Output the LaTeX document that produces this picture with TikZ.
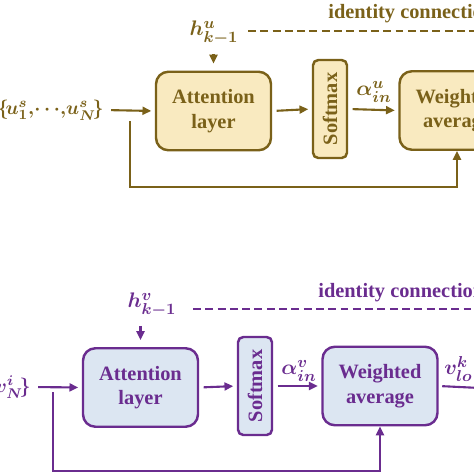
\documentclass[tikz,border=0pt]{standalone}
\usepackage{amsmath,bm}
\usepackage{fontspec}
\setmainfont{Liberation Serif}
\usetikzlibrary{arrows.meta,positioning,calc}
\definecolor{ochre}{HTML}{7A6119}
\definecolor{ochrefill}{HTML}{F9EAC0}
\definecolor{plum}{HTML}{6A2C8F}
\definecolor{plumfill}{HTML}{DCE6F2}

\begin{document}
\begin{tikzpicture}[x=0.02cm, y=-0.02cm, >={Triangle[length=5pt,width=4.5pt]},
    font=\fontsize{11.6}{14}\selectfont\bfseries,
    blockbox/.style={draw, fill=#1, line width=1.4pt, rounded corners=7pt,
                     minimum width=2.3cm, minimum height=1.57cm, align=center, inner sep=1pt},
    smbox/.style={draw, fill=#1, line width=1.4pt, rounded corners=3pt,
                  minimum width=0.68cm, minimum height=1.96cm, inner sep=0pt},
    sym/.style={font=\fontsize{13.2}{15}\selectfont, inner sep=0pt},
    setlbl/.style={font=\fontsize{11.4}{14}\selectfont, inner sep=0pt},
    flow/.style={->, line width=1.2pt, shorten <=2.5pt, shorten >=2pt},
    skip/.style={line width=0.8pt, dash pattern=on 4.5pt off 2.5pt}]
  \useasboundingbox (0,0) rectangle (474,474);
  \clip (0,0) rectangle (474,474);

  %% upper panel
  \begin{scope}[color=ochre]
    \node[blockbox=ochrefill] (attu) at (213.5,111) {Attention\\layer};
    \node[smbox=ochrefill] (smu) at (330,109) {\rotatebox{90}{Softmax}};
    \node[blockbox=ochrefill] (wau) at (457,110.5) {Weighted\\average};
    \node[setlbl, anchor=east] (inu) at (104,110)
      {$\bm{\{\!u^s_1{,}{\cdots}{,}u^s_N\!\}}$};
    \node[sym] (hu) at (214,33) {$\bm{h^u_{k-1}}$};
    \node[anchor=west, inner sep=0pt] (idu) at (328,14) {identity connection};
    \node[sym] (alu) at (374,92) {$\bm{\alpha^u_{in}}$};
    \coordinate (dsu) at (248,31);
    \coordinate (deu) at (480,31);
    \coordinate (fbu) at (130,121);
    \coordinate (fcu) at (130,187);
    %% connectors
    \draw[skip] (dsu) -- (deu);
    \draw[flow, shorten <=5pt, shorten >=4pt] (attu.north |- hu.south) -- (attu.north);
    \draw[flow, shorten <=4pt] (inu.east) -- (attu.west);
    \draw[flow] (attu.east) -- (smu.west);
    \draw[flow] (smu.east) -- (wau.west);
    \draw[->, line width=1.2pt] (fbu) -- (fcu) -| (wau.south);
  \end{scope}

  %% lower panel
  \begin{scope}[color=plum]
    \node[blockbox=plumfill] (attv) at (140.5,387.5) {Attention\\layer};
    \node[smbox=plumfill] (smv) at (255,386) {\rotatebox{90}{Softmax}};
    \node[blockbox=plumfill] (wav) at (380,386) {Weighted\\average};
    \node[setlbl, anchor=east] (inv) at (31,387)
      {$\bm{\{\!v^i_1{,}{\cdots}{,}v^i_N\!\}}$};
    \node[sym] (hv) at (152,305) {$\bm{h^v_{k-1}}$};
    \node[anchor=west, inner sep=0pt] (idv) at (318,293) {identity connection};
    \node[sym] (alv) at (299,371) {$\bm{\alpha^v_{in}}$};
    \node[sym, anchor=west] (outv) at (444,369) {$\bm{v^k_{lo}}$};
    \coordinate (dsv) at (193,309);
    \coordinate (dev) at (480,309);
    \coordinate (endv) at (480,388);
    \coordinate (fbv) at (53,392);
    \coordinate (fcv) at (53,471);
    %% connectors
    \draw[skip] (dsv) -- (dev);
    \draw[flow, shorten <=5pt, shorten >=4pt] (attv.north |- hv.south) -- (attv.north);
    \draw[flow, shorten <=4pt] (inv.east) -- (attv.west);
    \draw[flow] (attv.east) -- (smv.west);
    \draw[flow] (smv.east) -- (wav.west);
    \draw[line width=1.2pt, shorten <=2pt] (wav.east) -- (endv);
    \draw[->, line width=1.2pt] (fbv) -- (fcv) -| (wav.south);
  \end{scope}
\end{tikzpicture}
\end{document}
